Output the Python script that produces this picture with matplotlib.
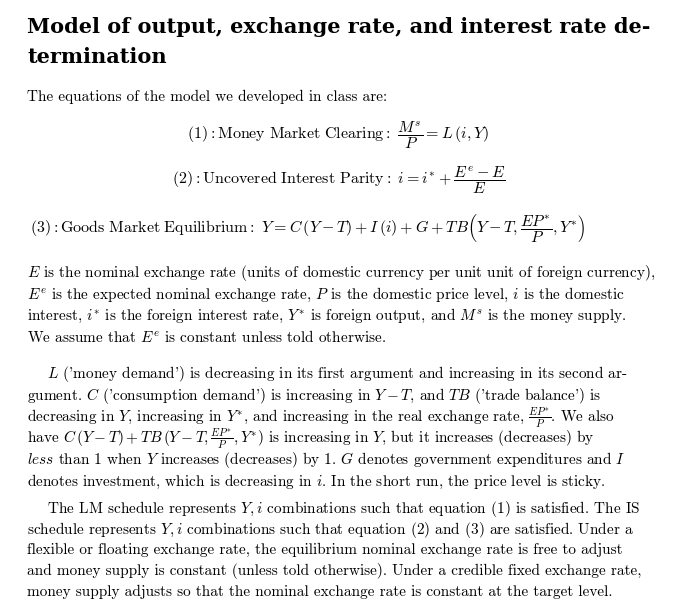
import matplotlib
matplotlib.use("Agg")
import matplotlib.pyplot as plt

plt.rcParams['font.family'] = ['cmr10', 'DejaVu Serif']
plt.rcParams['mathtext.fontset'] = 'cm'
plt.rcParams['axes.unicode_minus'] = False

title_lines = ["Model of output, exchange rate, and interest rate de-",
               "termination"]
intro = "The equations of the model we developed in class are:"
equations = [
    r"$(1): \mathrm{Money\ Market\ Clearing:}\ \dfrac{M^s}{P} = L\,(i, Y)$",
    r"$(2): \mathrm{Uncovered\ Interest\ Parity:}\ i = i^{*} + \dfrac{E^e - E}{E}$",
    r"$(3): \mathrm{Goods\ Market\ Equilibrium:}\ Y = C\,(Y-T) + I\,(i) + G + TB\left(Y-T, \dfrac{EP^{*}}{P}, Y^{*}\right)$",
]
para1 = [
    r"$E$ is the nominal exchange rate (units of domestic currency per unit unit of foreign currency),",
    r"$E^e$ is the expected nominal exchange rate, $P$ is the domestic price level, $i$ is the domestic",
    r"interest, $i^{*}$ is the foreign interest rate, $Y^{*}$ is foreign output, and $M^s$ is the money supply.",
    r"We assume that $E^e$ is constant unless told otherwise.",
]
para2 = [
    r"    $L$ ('money demand') is decreasing in its first argument and increasing in its second ar-",
    r"gument. $C$ ('consumption demand') is increasing in $Y-T$, and $TB$ ('trade balance') is",
    r"decreasing in $Y$, increasing in $Y^{*}$, and increasing in the real exchange rate, $\frac{EP^{*}}{P}$. We also",
    r"have $C\,(Y-T) + TB\,(Y-T, \frac{EP^{*}}{P}, Y^{*})$ is increasing in $Y$, but it increases (decreases) by",
    r"$\mathit{less}$ than 1 when $Y$ increases (decreases) by 1. $G$ denotes government expenditures and $I$",
    r"denotes investment, which is decreasing in $i$. In the short run, the price level is sticky.",
]
para3 = [
    r"    The LM schedule represents $Y, i$ combinations such that equation (1) is satisfied. The IS",
    r"schedule represents $Y, i$ combinations such that equation (2) and (3) are satisfied. Under a",
    r"flexible or floating exchange rate, the equilibrium nominal exchange rate is free to adjust",
    r"and money supply is constant (unless told otherwise). Under a credible fixed exchange rate,",
    r"money supply adjusts so that the nominal exchange rate is constant at the target level.",
]

W, H = 694, 609
fig = plt.figure(figsize=(W / 100, H / 100), dpi=100)

def put(x, y, s, **kw):
    fig.text(x / W, 1 - y / H, s, va='center', **kw)

put(27, 27, title_lines[0], fontsize=15, fontweight='bold', family=['DejaVu Serif'])
put(27, 57, title_lines[1], fontsize=15, fontweight='bold', family=['DejaVu Serif'])
put(27, 97, intro, fontsize=11)
put(187, 135, equations[0], fontsize=11.5)
put(172, 180, equations[1], fontsize=11.5)
put(30, 228, equations[2], fontsize=11.5)

for i, s in enumerate(para1):
    put(27, 273 + i * 21.5, s, fontsize=11)
for i, s in enumerate(para2):
    put(27, 374 + i * 21.6, s, fontsize=11)
for i, s in enumerate(para3):
    put(27, 509 + i * 20.6, s, fontsize=11)

fig.savefig("out.png", dpi=100, facecolor='white')
